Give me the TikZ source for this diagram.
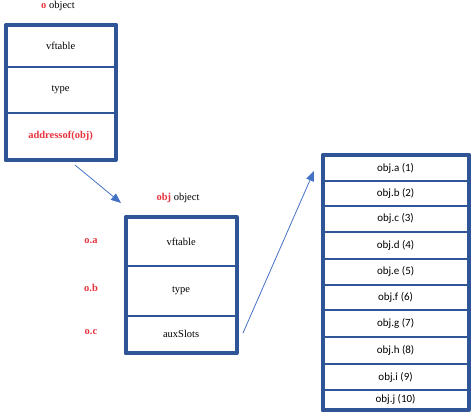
\documentclass[tikz,border=0pt]{standalone}
\usepackage{fontspec}
\setmainfont{Liberation Serif}
\newfontfamily\calfont{Carlito}
\usetikzlibrary{arrows.meta}
\definecolor{boxblue}{HTML}{2F5597}
\definecolor{arrowblue}{HTML}{4472C4}
\definecolor{lblred}{HTML}{E8333C}
\begin{document}
\begin{tikzpicture}[
  cell/.style={draw=boxblue, line width=2.2pt, inner sep=0pt, anchor=north west, font=\fontsize{10.5}{12}\selectfont},
  slot/.style={cell, minimum width=144pt, font=\calfont\fontsize{11}{12}\selectfont},
  outer/.style={draw=boxblue, line width=3.8pt, line join=round},
  lbl/.style={text=lblred, font=\bfseries\fontsize{10.5}{12}\selectfont},
  head/.style={font=\fontsize{10.5}{12}\selectfont},
  conn/.style={draw=arrowblue, line width=0.8pt, -{Triangle[length=10pt,width=8pt]}}
]
\useasboundingbox (0pt,0pt) rectangle (474pt,-417pt);

% o object
\node[head] (h1) at (58pt,-6pt) {\textcolor{lblred}{\textbf{o}} object};
\node[cell, minimum width=108pt, minimum height=41.5pt] (a1) at (5.5pt,-24.5pt) {vftable};
\node[cell, minimum width=108pt, minimum height=46pt] (a2) at (5.5pt,-66pt) {type};
\node[cell, minimum width=108pt, minimum height=46pt, text=lblred, font=\bfseries\fontsize{10.5}{12}\selectfont] (a3) at (5.5pt,-112pt) {addressof(obj)};
\draw[outer] (a1.north west) rectangle (a3.south east);

% obj object
\node[head] (h2) at (178pt,-198pt) {\textcolor{lblred}{\textbf{obj}} object};
\node[cell, minimum width=109pt, minimum height=48pt] (b1) at (125.5pt,-217pt) {vftable};
\node[cell, minimum width=109pt, minimum height=50pt] (b2) at (125.5pt,-265pt) {type};
\node[cell, minimum width=109pt, minimum height=36pt] (b3) at (125.5pt,-315pt) {auxSlots};
\draw[outer] (b1.north west) rectangle (b3.south east);

\node[lbl] (la) at (91pt,-241pt) {o.a};
\node[lbl] (lb) at (91pt,-288pt) {o.b};
\node[lbl] (lc) at (91pt,-332pt) {o.c};

% aux slots
\node[slot, minimum height=25.5pt] (c1) at (322.5pt,-154.5pt) {obj.a (1)};
\node[slot, minimum height=25pt] (c2) at (322.5pt,-180pt) {obj.b (2)};
\node[slot, minimum height=25.5pt] (c3) at (322.5pt,-205pt) {obj.c (3)};
\node[slot, minimum height=27pt] (c4) at (322.5pt,-230.5pt) {obj.d (4)};
\node[slot, minimum height=26.5pt] (c5) at (322.5pt,-257.5pt) {obj.e (5)};
\node[slot, minimum height=25pt] (c6) at (322.5pt,-284pt) {obj.f (6)};
\node[slot, minimum height=27pt] (c7) at (322.5pt,-309pt) {obj.g (7)};
\node[slot, minimum height=27pt] (c8) at (322.5pt,-336pt) {obj.h (8)};
\node[slot, minimum height=26pt] (c9) at (322.5pt,-363pt) {obj.i (9)};
\node[slot, minimum height=19pt] (c10) at (322.5pt,-389pt) {obj.j (10)};
\draw[outer] (c1.north west) rectangle (c10.south east);

% connectors
\coordinate (s1) at (75pt,-165pt);
\coordinate (e1) at (121pt,-203pt);
\draw[conn] (s1) -- (e1);
\coordinate (s2) at (243pt,-333pt);
\coordinate (e2) at (314pt,-171pt);
\draw[conn] (s2) -- (e2);
\end{tikzpicture}
\end{document}
